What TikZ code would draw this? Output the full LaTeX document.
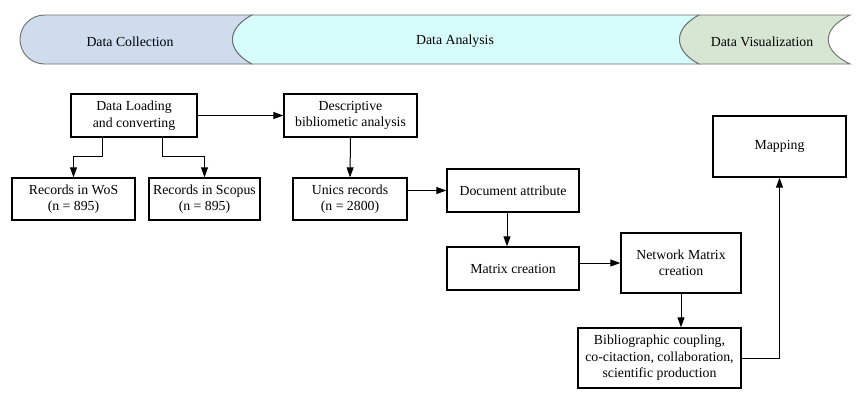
\documentclass[tikz,border=0pt]{standalone}
\usepackage{fontspec}
\setmainfont{Liberation Serif}
\usepackage{tikz}
\usetikzlibrary{arrows.meta}
\newcommand{\arw}{-{Triangle[length=10pt,width=7pt]}}
\definecolor{collectfill}{RGB}{207,220,238}
\definecolor{analysisfill}{RGB}{214,252,252}
\definecolor{visualfill}{RGB}{214,230,211}
\definecolor{bannerline}{RGB}{110,110,110}

\begin{document}
\begin{tikzpicture}[x=1pt,y=-1pt,
  font=\fontsize{13.8}{16.5}\selectfont,
  box/.style={draw,line width=1.4pt,align=center,inner sep=2pt},
  phase/.style={draw=bannerline,line width=0.9pt},
  link/.style={line width=1pt}]
\useasboundingbox (0,0) rectangle (864,402);
%phases
\filldraw[phase,fill=collectfill] (252,15) -- (44.5,15) arc[start angle=270,end angle=90,radius=24.5]
  -- (252,64) .. controls (226,50) and (226,29) .. (252,15) -- cycle;
\filldraw[phase,fill=analysisfill] (252,15) -- (699,15) .. controls (673,29) and (673,50) .. (699,64)
  -- (252,64) .. controls (226,50) and (226,29) .. (252,15) -- cycle;
\filldraw[phase,fill=visualfill] (699,15) -- (850,15) .. controls (821,29) and (821,50) .. (850,64)
  -- (699,64) .. controls (673,50) and (673,29) .. (699,15) -- cycle;
\node (collect) at (130,41.5) {Data Collection};
\node (analysis) at (455,41.5) {Data Analysis};
\node (visual) at (762,41.5) {Data Visualization};
%collection
\node[box,minimum width=126,minimum height=43] (load) at (134,115.5) {Data Loading\\and converting};
\node[box,minimum width=123,minimum height=42] (wos) at (73.5,199) {Records in WoS\\(n = 895)};
\node[box,minimum width=111,minimum height=42] (scopus) at (204.5,199) {Records in Scopus\\(n = 895)};
%analysis
\node[box,minimum width=133,minimum height=43] (desc) at (350.5,115.5) {Descriptive\\bibliometic analysis};
\node[box,minimum width=114,minimum height=42] (unics) at (350,199) {Unics records\\(n = 2800)};
\node[box,minimum width=132,minimum height=43] (docattr) at (513,190.5) {Document attribute};
\node[box,minimum width=132,minimum height=43] (matrix) at (513,268.5) {Matrix creation};
\node[box,minimum width=120,minimum height=60] (netmat) at (681,263) {Network Matrix\\creation};
\node[box,minimum width=163,minimum height=60] (biblio) at (659.5,358) {Bibliographic coupling,\\co-citaction, collaboration,\\scientific production};
%visualization
\node[box,minimum width=133,minimum height=61] (mapping) at (779.5,146.5) {Mapping};
%connectors
\draw[link,\arw] ([xshift=-32pt]load.south) -- ++(0,19) -| (wos.north);
\draw[link,\arw] ([xshift=28pt]load.south) -- ++(0,19) -| (scopus.north);
\draw[link,\arw] (load.east) -- (desc.west);
\draw[link,\arw] (desc.south) -- (unics.north);
\draw[link,\arw] (unics.east |- docattr.west) -- (docattr.west);
\draw[link,\arw] ([xshift=-6pt]docattr.south) -- ([xshift=-6pt]matrix.north);
\draw[link,\arw] (matrix.east |- netmat.west) -- (netmat.west);
\draw[link,\arw] (netmat.south) -- (netmat.south |- biblio.north);
\draw[link,\arw] (biblio.east) -| (mapping.south);
\end{tikzpicture}
\end{document}
